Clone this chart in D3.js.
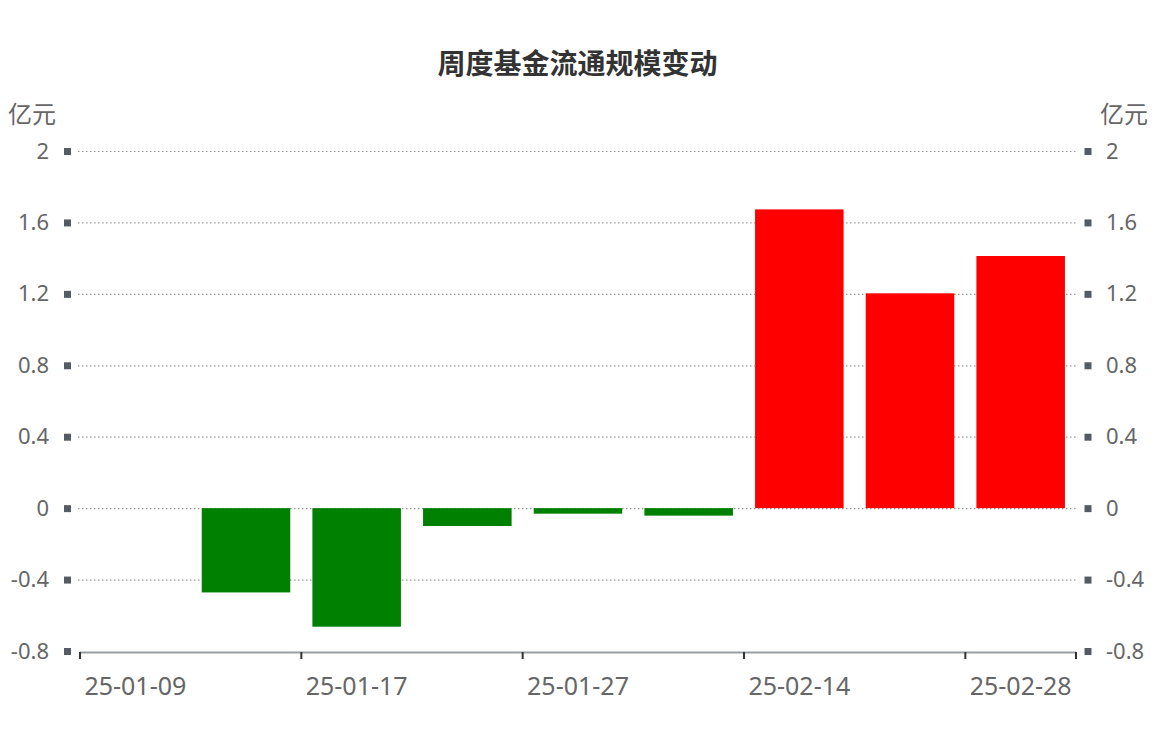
<!DOCTYPE html>
<html>
<head>
  <meta charset="utf-8">
  <script src="https://cdn.jsdelivr.net/npm/d3@7/dist/d3.min.js"></script>
  <style>
    body {
      margin: 0;
      background: #fff;
      font-family: 'Noto Sans', 'Noto Sans CJK SC', sans-serif;
    }
    .grid line {
      stroke: #999;
      stroke-width: 1.2;
      stroke-dasharray: 1.5, 2.5;
    }
  </style>
</head>
<body>
  <div id="chart"></div>
  <script type="text/javascript">
    // weekly change of fund float size (亿元)
    var dates = ["25-01-09", "25-01-10", "25-01-17", "25-01-24", "25-01-27",
                 "25-02-07", "25-02-14", "25-02-21", "25-02-28"];
    var values = [0, -0.472, -0.664, -0.10, -0.031, -0.042, 1.673, 1.203, 1.412];
    var yTicks = [-0.8, -0.4, 0, 0.4, 0.8, 1.2, 1.6, 2];
    var unitLabel = "亿元";
    var title = "周度基金流通规模变动";

    var width = 1175, height = 730;
    var plotLeft = 80, plotRight = 1076, plotTop = 151, plotBottom = 651;

    var svg = d3.select("#chart")
      .append("svg")
        .attr("width", width)
        .attr("height", height);

    var x = d3.scaleBand()
      .domain(dates)
      .range([plotLeft, plotRight])
      .paddingInner(0.2)
      .paddingOuter(0.1);

    var y = d3.scaleLinear()
      .domain([-0.8, 2])
      .range([plotBottom, plotTop]);

    // title
    svg.append("text")
      .attr("x", width / 2 - 10)
      .attr("y", 74)
      .attr("text-anchor", "middle")
      .attr("font-size", "28px")
      .attr("font-weight", "bold")
      .attr("fill", "#333")
      .text(title);

    // unit labels on both sides
    svg.append("text")
      .attr("x", 8).attr("y", 123)
      .attr("font-size", "24px").attr("fill", "#666")
      .text(unitLabel);
    svg.append("text")
      .attr("x", 1100).attr("y", 123)
      .attr("font-size", "24px").attr("fill", "#666")
      .text(unitLabel);

    // dotted grid
    svg.append("g")
        .attr("class", "grid")
      .selectAll("line")
      .data(yTicks.filter(function (d) { return d !== -0.8; }))
      .enter()
      .append("line")
        .attr("x1", plotLeft - 2)
        .attr("x2", plotRight)
        .attr("y1", function (d) { return y(d) + 0.5; })
        .attr("y2", function (d) { return y(d) + 0.5; });

    // bars
    svg.append("g")
      .selectAll("rect")
      .data(values.map(function (v, i) { return { d: dates[i], v: v }; }))
      .enter()
      .append("rect")
        .attr("x", function (d) { return x(d.d); })
        .attr("width", x.bandwidth())
        .attr("y", function (d) { return y(Math.max(0, d.v)); })
        .attr("height", function (d) { return Math.abs(y(d.v) - y(0)); })
        .attr("fill", function (d) { return d.v >= 0 ? "#ff0000" : "#008000"; });

    // y axes: square markers + labels on both sides
    function yAxisSide(sqX, labelX, anchor) {
      var g = svg.append("g");
      g.selectAll("rect")
        .data(yTicks)
        .enter()
        .append("rect")
          .attr("x", sqX - 3.5)
          .attr("y", function (d) { return y(d) - 3; })
          .attr("width", 7)
          .attr("height", 7)
          .attr("fill", "#555b64");
      g.selectAll("text")
        .data(yTicks)
        .enter()
        .append("text")
          .attr("x", labelX)
          .attr("y", function (d) { return y(d) + 7.5; })
          .attr("text-anchor", anchor)
          .attr("font-size", "22px")
          .attr("fill", "#666")
          .text(function (d) { return String(d); });
    }
    yAxisSide(67.5, 49, "end");
    yAxisSide(1088, 1106, "start");

    // x axis line
    svg.append("line")
      .attr("x1", plotLeft)
      .attr("x2", plotRight)
      .attr("y1", plotBottom + 1.5)
      .attr("y2", plotBottom + 1.5)
      .attr("stroke", "#9a9ea5")
      .attr("stroke-width", 2);

    // x ticks every other category boundary, plus the end
    var step = x.step();
    var tickPos = dates.filter(function (d, i) { return i % 2 === 0; })
      .map(function (d) { return x(d) - step * 0.1; });
    tickPos.push(plotRight);
    svg.append("g")
      .selectAll("line")
      .data(tickPos)
      .enter()
      .append("line")
        .attr("x1", function (d) { return d; })
        .attr("x2", function (d) { return d; })
        .attr("y1", plotBottom + 1)
        .attr("y2", plotBottom + 8)
        .attr("stroke", "#333")
        .attr("stroke-width", 2);

    // x labels on every other category
    svg.append("g")
      .selectAll("text")
      .data(dates.filter(function (d, i) { return i % 2 === 0; }))
      .enter()
      .append("text")
        .attr("x", function (d) { return x(d) + x.bandwidth() / 2; })
        .attr("y", 695)
        .attr("text-anchor", "middle")
        .attr("font-size", "25px")
        .attr("fill", "#666")
        .text(function (d) { return d; });
  </script>
</body>
</html>
